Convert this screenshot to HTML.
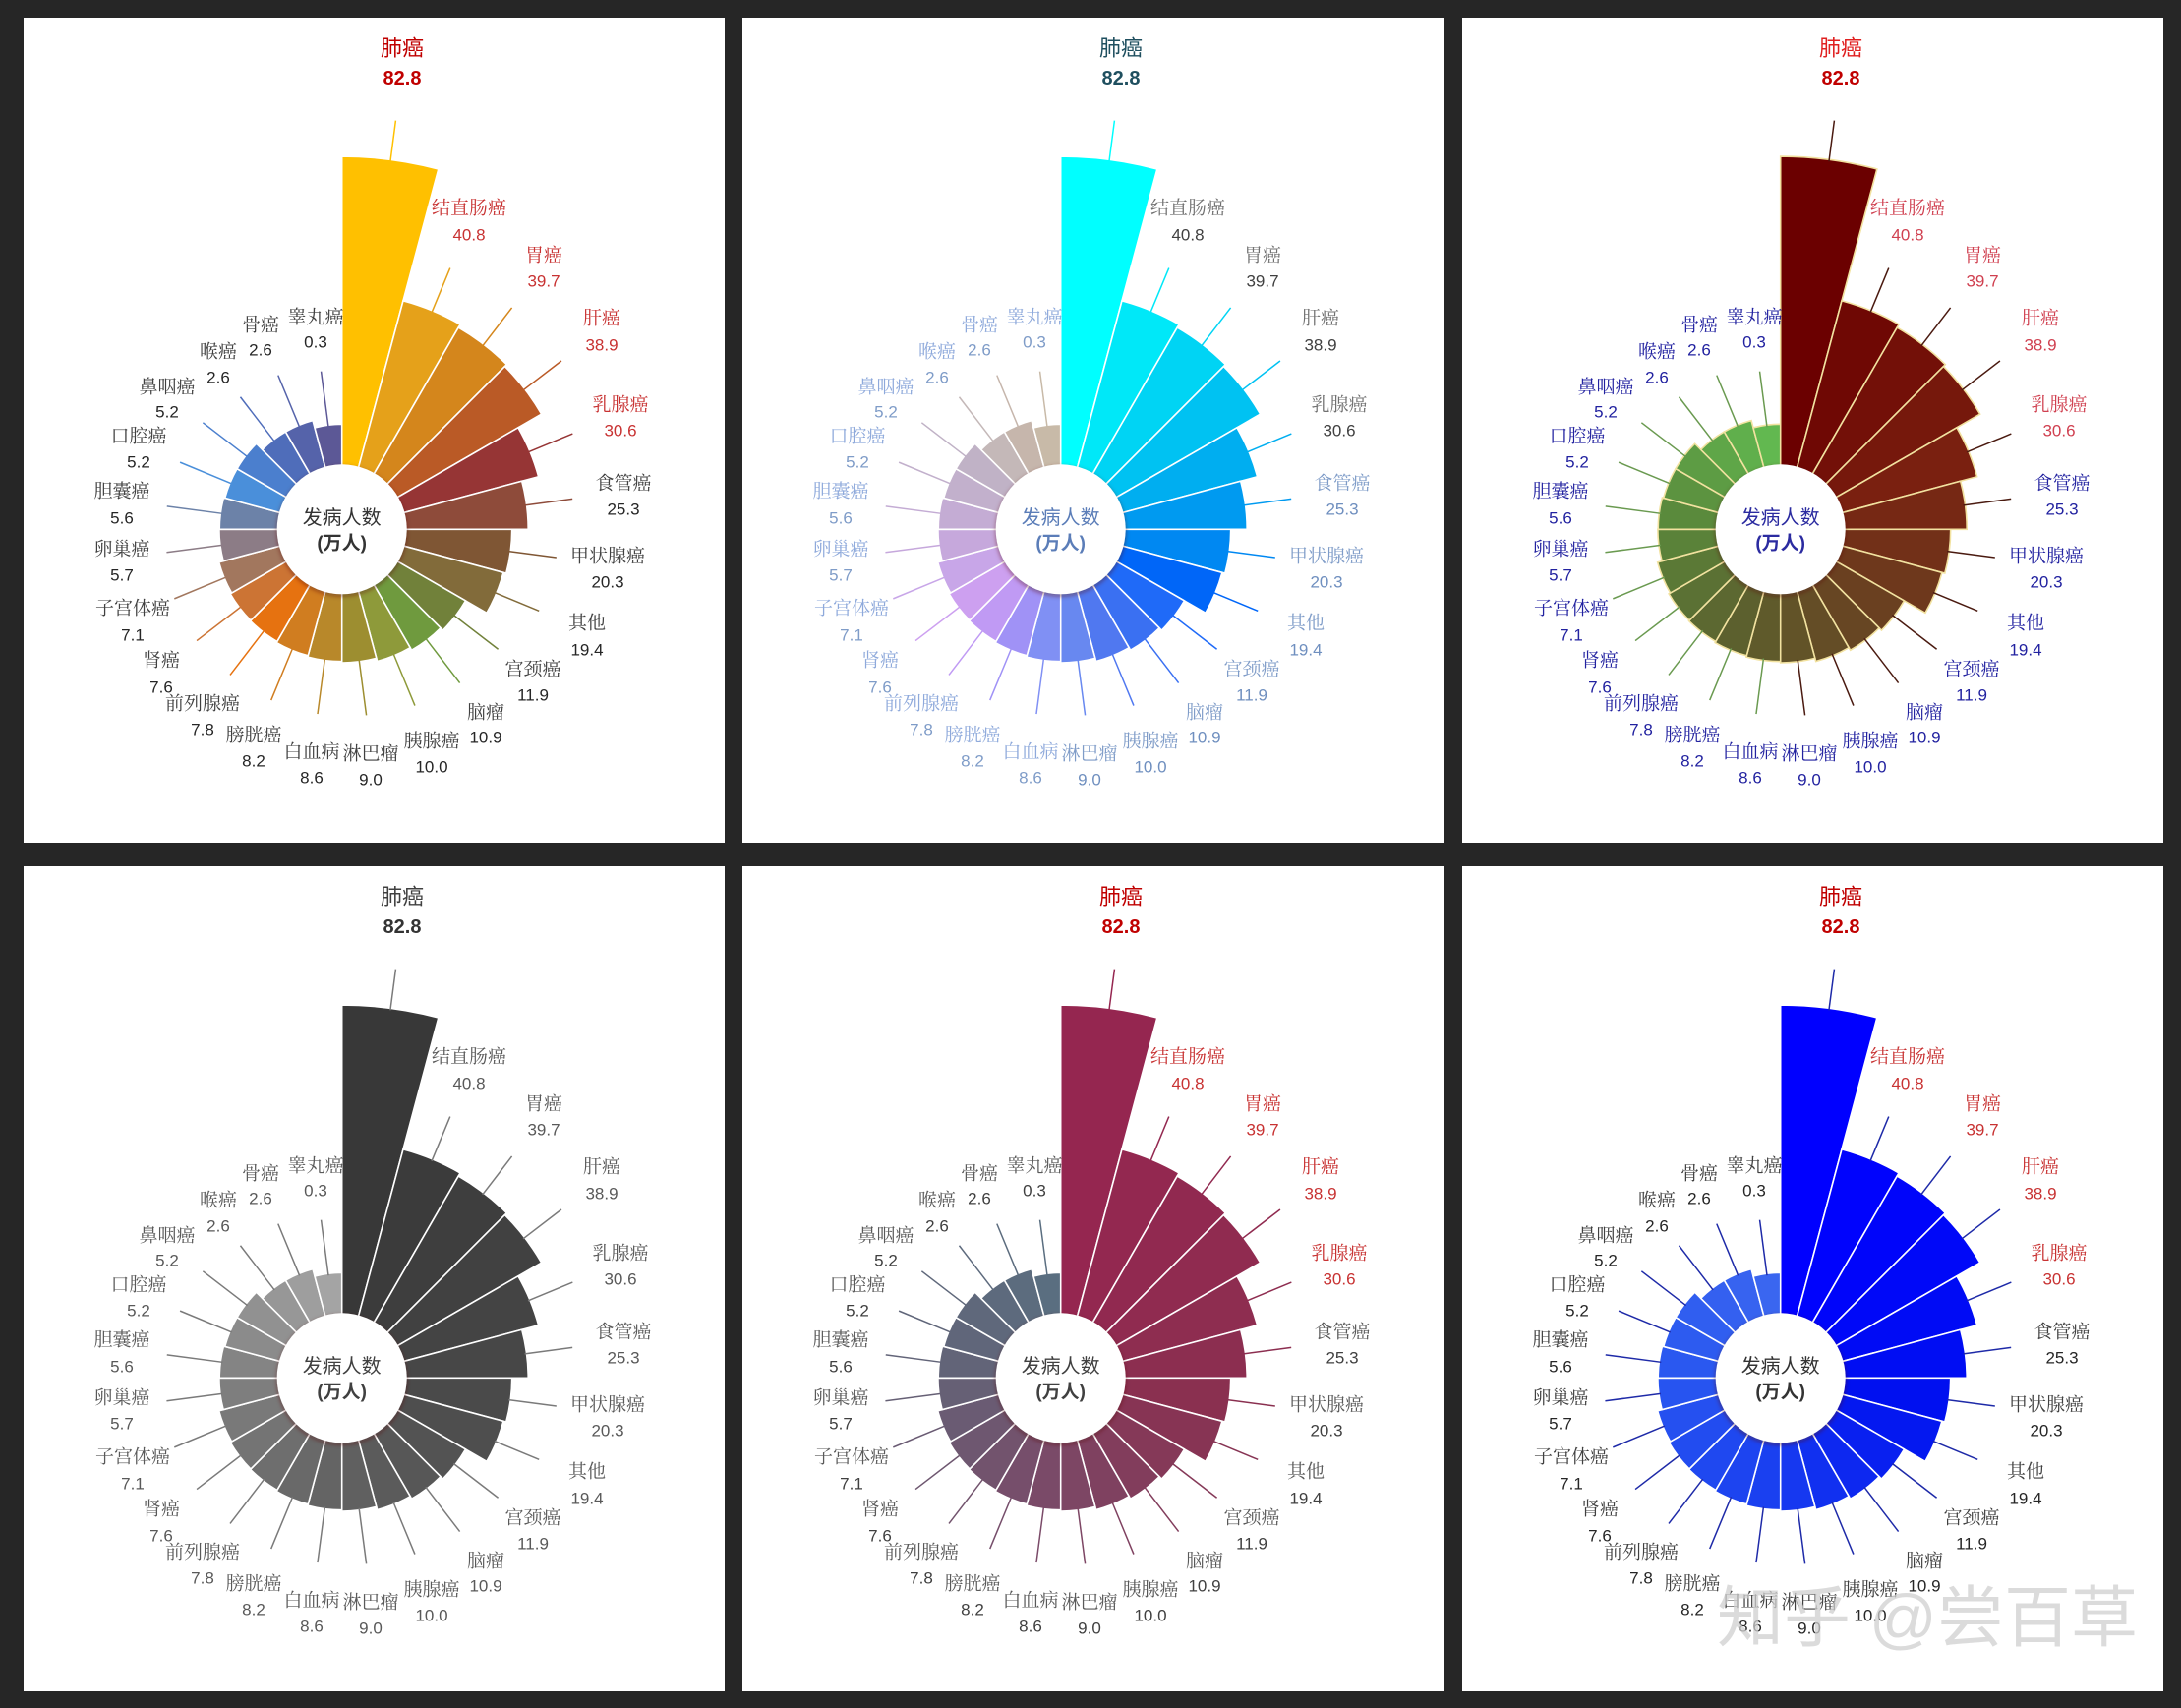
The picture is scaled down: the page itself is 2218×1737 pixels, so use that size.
<!DOCTYPE html>
<html><head><meta charset="utf-8"><style>
html,body{margin:0;padding:0;background:#262626;}
svg{display:block;}
</style></head><body>
<svg id="s" xmlns="http://www.w3.org/2000/svg" width="2218" height="1737" viewBox="0 0 2218 1737">
<defs><filter id="sh" x="-30%" y="-30%" width="160%" height="160%"><feDropShadow dx="0" dy="2" stdDeviation="2.5" flood-color="#5a1010" flood-opacity="0.5"/></filter></defs>
<rect width="2218" height="1737" fill="#262626"/>
<text x="1960" y="1646" text-anchor="middle" dominant-baseline="central" font-family="'Liberation Sans','Noto Sans CJK SC',sans-serif" font-size="68" fill="#cfcfcf" fill-opacity="0.75">知乎 @尝百草</text>
</svg>
<script>
(function(){
var NS="http://www.w3.org/2000/svg",S=document.getElementById("s");
var names=["肺癌","结直肠癌","胃癌","肝癌","乳腺癌","食管癌","甲状腺癌","其他","宫颈癌","脑瘤","胰腺癌","淋巴瘤","白血病","膀胱癌","前列腺癌","肾癌","子宫体癌","卵巢癌","胆囊癌","口腔癌","鼻咽癌","喉癌","骨癌","睾丸癌"];
var vals=["82.8","40.8","39.7","38.9","30.6","25.3","20.3","19.4","11.9","10.9","10.0","9.0","8.6","8.2","7.8","7.6","7.1","5.7","5.6","5.2","5.2","2.6","2.6","0.3"];
var L=[[409,45,76],[477,208,235],[553,256,282],[612,320,347],[631,408,434],[634,488,514],[618,562,588],[597,630,657],[542,677,703],[494,721,746],[439,750,776],[377,763,789],[317,761,787],[258,744,770],[206,712,738],[164,668,695],[135,615,642],[124,555,581],[124,496,523],[141,440,466],[170,390,415],[222,354,380],[265,327,352],[321,319,344]];
var DY=4;
var CX=347.7,CY=538.3;
function hx(c){return [parseInt(c.substr(1,2),16),parseInt(c.substr(3,2),16),parseInt(c.substr(5,2),16)];}
function interp(anchors){var out=[];for(var i=0;i<24;i++){var a=0;while(a<anchors.length-2&&anchors[a+1][0]<=i)a++;var p=anchors[a],q=anchors[a+1];var t=(i-p[0])/(q[0]-p[0]);t=Math.max(0,Math.min(1,t));var A=hx(p[1]),B=hx(q[1]);out.push("rgb("+Math.round(A[0]+(B[0]-A[0])*t)+","+Math.round(A[1]+(B[1]-A[1])*t)+","+Math.round(A[2]+(B[2]-A[2])*t)+")");}return out;}
var P1=["#FFC000","#E5A11A","#D4861C","#BA5A26","#963535","#8E4B3A","#7F5634","#826B3A","#71813A","#6F9A3E","#8E9A3A","#9D8E30","#B8882A","#D07D20","#E67210","#CC7434","#A2775E","#8C7C86","#6C82A8","#4A8FDA","#4B7FCE","#4F6DBA","#5563AA","#5C5896"];
var P2=["#00FFFF","#00E8F8","#00D4F4","#00C2F2","#00AEF0","#009AF0","#0088F2","#0066F8","#1F6AF8","#3A70F2","#5078F0","#6888F0","#8090F4","#A092F6","#C09AF4","#CDA0F0","#C8A6E8","#C6A8DC","#C4ACD4","#C2B0CC","#C0B2C6","#C4B8B8","#C6B6AC","#C8BAA8"];
var P3=interp([[0,"#6B0000"],[4,"#7A2010"],[8,"#6A4020"],[13,"#5C602E"],[18,"#5A8A3C"],[23,"#62B850"]]);
var P4=interp([[0,"#383838"],[6,"#4A4A4A"],[12,"#646464"],[17,"#7E7E7E"],[23,"#A4A4A4"]]);
var P5=interp([[0,"#952650"],[6,"#8A3050"],[12,"#7A4A68"],[18,"#626478"],[23,"#5A6E80"]]);
var P6=interp([[0,"#0000FF"],[6,"#0010F0"],[12,"#1A40F0"],[18,"#2A58F0"],[23,"#3A66F0"]]);
function lc1(i){if(i==0)return["#C00000","#C00000"];if(i<5)return["#C83232","#C83232"];return["#404040","#262626"];}
var panels=[
{dx:0,dy:0,c:P1,sep:"#fff",hole:"#333",lab:lc1,line:function(i,c){return c[i];}},
{dx:731,dy:0,c:P2,sep:"#fff",hole:"#5B7DB8",lab:function(i){if(i==0)return["#1F4F5F","#1F4F5F"];if(i<5)return["#707070","#404040"];if(i<12)return["#7F9CC8","#6F8FBF"];return["#8EA9DB","#7F9CC8"];},line:function(i,c){return c[i];}},
{dx:1463,dy:0,c:P3,sep:"#F2E2A0",hole:"#2B2BA0",lab:function(i){if(i==0)return["#E02020","#C00000"];if(i<5)return["#D04050","#D04050"];return["#2222A0","#2222A0"];},line:function(i,c){return i<12?"#4a1a10":"#6A9A50";}},
{dx:0,dy:863,c:P4,sep:"#fff",hole:"#404040",lab:function(i){if(i==0)return["#404040","#333333"];return["#595959","#595959"];},line:function(i,c){return "#7a7a7a";}},
{dx:731,dy:863,c:P5,sep:"#fff",hole:"#404040",lab:function(i){if(i==0)return["#C00000","#C00000"];if(i<5)return["#C83232","#C83232"];return["#595959","#404040"];},line:function(i,c){return c[i];}},
{dx:1463,dy:863,c:P6,sep:"#fff",hole:"#333",lab:lc1,line:function(i,c){return "#1E2AA8";}}
];
function el(t,a,txt){var e=document.createElementNS(NS,t);for(var k in a)e.setAttribute(k,a[k]);if(txt!=null)e.textContent=txt;return e;}
function pt(r,a){var d=a*Math.PI/180;return [CX+r*Math.sin(d),CY-r*Math.cos(d)];}
var wm=S.lastElementChild;
panels.forEach(function(P){
  var g=el("g",{transform:"translate("+P.dx+","+P.dy+")"});
  g.appendChild(el("rect",{x:24,y:18,width:713,height:839,fill:"#fff"}));
  for(var i=0;i<24;i++){
    var v=parseFloat(vals[i]);var r=106+3.3*v;var a0=i*15,a1=a0+15,r0=55;
    var p0=pt(r0,a0),p1=pt(r,a0),p2=pt(r,a1),p3=pt(r0,a1);
    var d="M"+p0[0].toFixed(2)+","+p0[1].toFixed(2)+"L"+p1[0].toFixed(2)+","+p1[1].toFixed(2)+"A"+r+","+r+" 0 0 1 "+p2[0].toFixed(2)+","+p2[1].toFixed(2)+"L"+p3[0].toFixed(2)+","+p3[1].toFixed(2)+"A"+r0+","+r0+" 0 0 0 "+p0[0].toFixed(2)+","+p0[1].toFixed(2)+"Z";
    g.appendChild(el("path",{d:d,fill:P.c[i],stroke:P.sep,"stroke-width":1.6,"stroke-linejoin":"miter"}));
  }
  for(var i=0;i<24;i++){
    var v=parseFloat(vals[i]);var r=106+3.3*v;var am=i*15+7.5;
    var len=i==0?40:(v<15?55:47);
    var s=pt(r-2,am),e=pt(r+len,am);
    g.appendChild(el("line",{x1:s[0].toFixed(2),y1:s[1].toFixed(2),x2:e[0].toFixed(2),y2:e[1].toFixed(2),stroke:P.line(i,P.c),"stroke-width":1.5}));
  }
  g.appendChild(el("circle",{cx:CX,cy:CY,r:66,fill:"#fff",filter:"url(#sh)"}));
  g.appendChild(el("text",{x:CX,y:527,"text-anchor":"middle","dominant-baseline":"central","font-family":"'Liberation Sans','Noto Sans CJK SC',sans-serif","font-size":20,fill:P.hole},"发病人数"));
  g.appendChild(el("text",{x:CX,y:553,"text-anchor":"middle","dominant-baseline":"central","font-family":"'Liberation Sans','Noto Sans CJK SC',sans-serif","font-size":19,"font-weight":"bold",fill:P.hole},"(万人)"));
  for(var i=0;i<24;i++){
    var c=P.lab(i);var big=(i==0);
    g.appendChild(el("text",{x:L[i][0],y:L[i][1]+DY,"text-anchor":"middle","dominant-baseline":"central","font-family":big?"'Liberation Sans','Noto Sans CJK SC',sans-serif":"'Liberation Serif','Noto Serif CJK SC','Noto Serif CJK',serif","font-size":big?22:19,fill:c[0]},names[i]));
    g.appendChild(el("text",{x:L[i][0],y:L[i][2]+DY,"text-anchor":"middle","dominant-baseline":"central","font-family":"'Liberation Sans',sans-serif","font-size":big?20:17,"font-weight":big?"bold":"normal",fill:c[1]},vals[i]));
  }
  S.insertBefore(g,wm);
});
})();
</script>
</body></html>
